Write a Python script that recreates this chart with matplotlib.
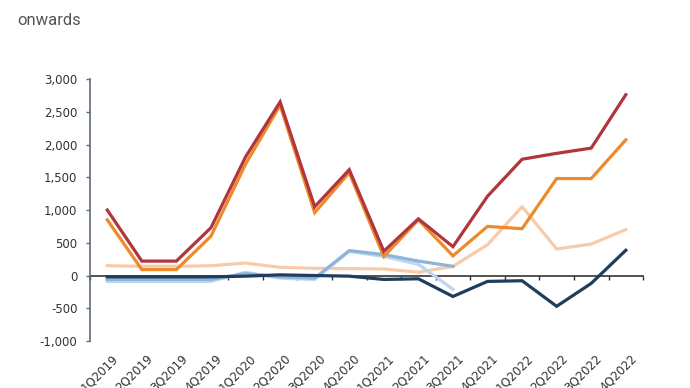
import matplotlib
matplotlib.use("Agg")
import matplotlib.pyplot as plt
from matplotlib import font_manager
import numpy as np
from matplotlib.ticker import FuncFormatter, FixedLocator

quarters = ["1Q2019", "2Q2019", "3Q2019", "4Q2019", "1Q2020", "2Q2020", "3Q2020", "4Q2020",
            "1Q2021", "2Q2021", "3Q2021", "4Q2021", "1Q2022", "2Q2022", "3Q2022", "4Q2022"]

nan = np.nan
dark_red = [1000, 220, 220, 730, 1810, 2650, 1050, 1615, 370, 865, 440, 1210, 1775, 1865, 1945, 2760]
orange = [850, 90, 90, 600, 1700, 2600, 960, 1570, 290, 850, 300, 750, 715, 1480, 1480, 2070]
peach = [150, 140, 140, 150, 190, 125, 110, 105, 100, 50, 140, 470, 1050, 405, 480, 700]
navy = [-20, -20, -20, -20, -10, 10, 0, -10, -60, -50, -320, -90, -80, -470, -120, 385]
mid_blue = [-60, -60, -60, -60, 30, -20, -40, 380, 320, 220, 140, nan, nan, nan, nan, nan]
light_blue = [-90, -90, -90, -90, 50, -40, -60, 370, 290, 170, -210, nan, nan, nan, nan, nan]

y_ticks = [-1000, -500, 0, 500, 1000, 1500, 2000, 2500, 3000]

names = {f.name for f in font_manager.fontManager.ttflist}
if "Liberation Sans Narrow" in names:
    title_family = ["Liberation Sans Narrow", "DejaVu Sans"]
    title_size = 13.5
else:
    title_family = ["Roboto", "DejaVu Sans"]
    title_size = 12

fig = plt.figure(figsize=(6.9, 3.88), dpi=100)
ax = fig.add_axes([0.1304, 0.1211, 0.932 - 0.1304, 0.7964 - 0.1211])

x = np.arange(len(quarters))
lw = 2.3
ax.plot(x, peach, color="#F7CBAA", lw=lw, zorder=2, solid_joinstyle="miter")
ax.plot(x, light_blue, color="#BDD7EE", lw=lw, zorder=3, solid_joinstyle="miter")
ax.plot(x, mid_blue, color="#8FB4DA", lw=lw, zorder=3, solid_joinstyle="miter")
ax.plot(x, navy, color="#1F3D5C", lw=lw, zorder=4, solid_joinstyle="miter")
ax.plot(x, orange, color="#EE8A2A", lw=lw, zorder=5, solid_joinstyle="miter")
ax.plot(x, dark_red, color="#B0353D", lw=lw, zorder=6, solid_joinstyle="miter")

ax.set_xlim(-0.5, len(quarters) - 0.5)
ax.set_ylim(-1000, 3000)

for s in ["top", "right"]:
    ax.spines[s].set_visible(False)
ax.spines["left"].set_color("#5C6B78")
ax.spines["left"].set_linewidth(1.2)
ax.spines["bottom"].set_position(("data", 0))
ax.spines["bottom"].set_color("#333333")
ax.spines["bottom"].set_linewidth(1.2)
ax.spines["bottom"].set_zorder(1)

ax.yaxis.set_major_locator(FixedLocator(y_ticks))
ax.yaxis.set_major_formatter(FuncFormatter(lambda v, p: f"{int(v):,}"))
ax.tick_params(axis="y", direction="out", length=3, width=1, color="#5C6B78",
               labelsize=8.5, labelcolor="#333333", pad=6)

ax.set_xticks(np.arange(-0.5, len(quarters), 1.0))
ax.set_xticklabels([])
ax.tick_params(axis="x", direction="out", length=3, width=1, color="#333333")

trans = ax.get_xaxis_transform()
for i, q in enumerate(quarters):
    ax.annotate(q, xy=(i, 0), xycoords=trans, xytext=(3, -8), textcoords="offset points",
                rotation=45, ha="right", va="top", fontsize=8.5, color="#333333",
                rotation_mode="anchor", annotation_clip=False)

fig.text(0.025, 0.948, "onwards", fontsize=title_size, color="#555555",
         family=title_family, ha="left", va="center")

fig.savefig("out.png", dpi=100)
